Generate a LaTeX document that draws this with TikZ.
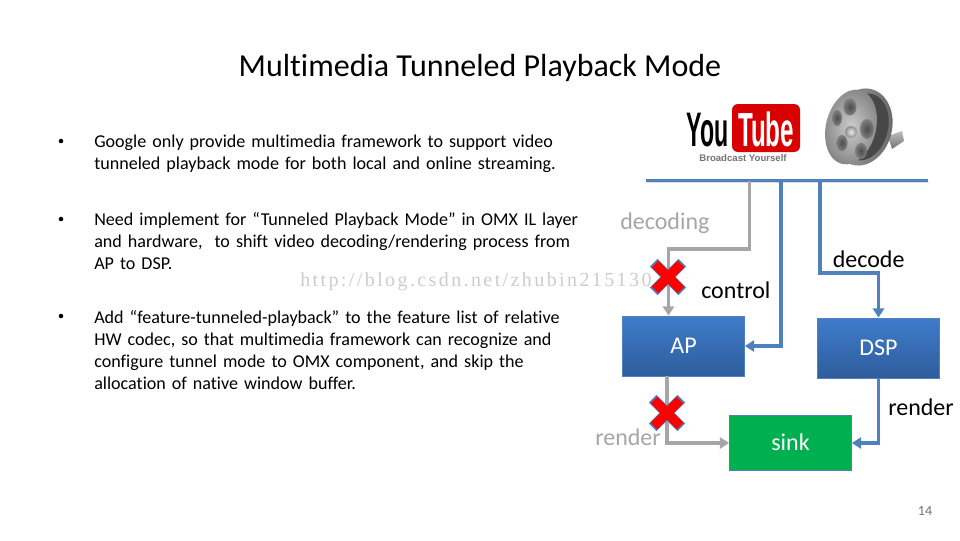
\documentclass[tikz,border=0pt]{standalone}
\usepackage{fontspec}
\setmainfont[Ligatures=NoCommon]{Carlito}
\newfontfamily\wmfont[LetterSpace=12]{Liberation Serif}
\newfontfamily\ytfont{Liberation Sans}
\usetikzlibrary{arrows.meta,shapes.misc,shadows}
\definecolor{flowblue}{HTML}{4F81BD}
\definecolor{flowgrey}{HTML}{A6A6A6}
\definecolor{boxtop}{HTML}{3F7CCB}
\definecolor{boxbot}{HTML}{2E5D9C}
\definecolor{sinkgreen}{HTML}{00B050}
\tikzset{
  x=0.75pt,y=-0.75pt,
  boxbase/.style={minimum width=91.5pt,inner sep=0pt,text=white,font=\fontsize{18}{21}\selectfont,draw=flowblue,line width=.6pt,drop shadow={shadow xshift=0.5pt,shadow yshift=-0.9pt,opacity=.3}},
  bluebox/.style={boxbase,minimum height=45pt,top color=boxtop,bottom color=boxbot},
  greenbox/.style={boxbase,minimum height=41.25pt,fill=sinkgreen},
  flow/.style={line width=2.4pt,-{Triangle[length=7pt,width=8.5pt]}},
  bluef/.style={flow,draw=flowblue},
  greyf/.style={flow,draw=flowgrey},
  lab/.style={inner sep=0pt,font=\fontsize{18}{22}\selectfont},
  glab/.style={lab,text=black!35},
  bul/.style={inner sep=0pt,anchor=north west,align=left,text width=400pt,font=\fontsize{13.55}{16.5}\selectfont},
  dotb/.style={circle,fill=black,inner sep=0pt,minimum size=3.4pt},
  xmark/.style={cross out,draw=red,line width=7pt,minimum size=12.5pt,inner sep=0pt},
  xedge/.style={cross out,draw=flowblue,line width=8pt,minimum size=13.5pt,inner sep=0pt},
  holefill/.style={inner color=black!70,outer color=black!50},
}
\begin{document}
\begin{tikzpicture}
\useasboundingbox (0,0) rectangle (960,540);
\fill[white] (0,0) rectangle (960,540);
\node[inner sep=0pt,font=\fontsize{24}{28}\selectfont] (title) at (480,67.5) {Multimedia Tunneled Playback Mode};

% bullets
\node[dotb] (b1) at (61,141) {};
\node[dotb] (b2) at (61,219) {};
\node[dotb] (b3) at (61,316) {};
\node[bul] (t1) at (94,134.5) {Google only provide multimedia framework to support video\\tunneled playback mode for both local and online streaming.};
\node[bul] (t2) at (94,212) {Need implement for “Tunneled Playback Mode” in OMX IL layer\\and hardware,\ \ to shift video decoding/rendering process from\\AP to DSP.};
\node[bul] (t3) at (94,310.5) {Add “feature-tunneled-playback” to the feature list of relative\\HW codec, so that multimedia framework can recognize and\\configure tunnel mode to OMX component, and skip the\\allocation of native window buffer.};

% watermark
\node[inner sep=0pt,anchor=west,text=black!20,font=\fontsize{15}{18}\wmfont] (wm) at (300,282) {http://blog.csdn.net/zhubin215130};

% YouTube logo
\node[inner sep=0pt,anchor=west,font=\ytfont\bfseries] (you) at (686,130) {\resizebox{31.5pt}{25pt}{You}};
\fill[red!85!black,rounded corners=4.5pt] (732,104) rectangle (800,152);
\node[inner sep=0pt,text=white,font=\ytfont\bfseries] (tube) at (766,129) {\resizebox{42pt}{26pt}{Tube}};
\node[inner sep=0pt,text=black!55,font=\ytfont\bfseries\fontsize{7.2}{9}\selectfont] (bc) at (743,158.5) {Broadcast Yourself};

% film reel
\shade[top color=black!25,bottom color=black!55] (888,136) -- (902,131) -- (904,141) -- (892,149) -- cycle;
\shade[left color=black!35,right color=black!60,rotate around={-14:(862,127)}] (862,127) ellipse (30 and 39);
\fill[black!72,rotate around={-14:(864,127)}] (864,127) ellipse (24 and 34);
\shade[inner color=black!20,outer color=black!48,rotate around={-14:(851,127)}] (851,127) ellipse (25 and 38);
\shade[holefill] (850,107) ellipse (6.5 and 8.5);
\shade[holefill] (837,118) ellipse (5 and 8);
\shade[holefill] (867,129) ellipse (7 and 10);
\shade[holefill] (842,143) ellipse (5.5 and 8);
\shade[holefill] (861,151) ellipse (6 and 8);
\shade[inner color=black!8,outer color=black!45] (851,132) circle (6);

% boxes
\node[bluebox] (ap) at (683.5,346) {AP};
\node[bluebox] (dsp) at (878.5,348) {DSP};
\node[greenbox] (sink) at (790.5,442.5) {sink};

% bus
\coordinate (busL) at (646,180.5);
\coordinate (busR) at (928,180.5);
\coordinate (busA) at (749.5,180.5);
\coordinate (busB) at (781,180.5);
\coordinate (busC) at (820,180.5);
\coordinate (grey1) at (749.5,249);
\coordinate (grey2) at (668.5,249);
\coordinate (grey3) at (667,443);
\coordinate (blue1) at (820,273);
\coordinate (blue2) at (878.5,273);
\coordinate (blue3) at (781,346);
\coordinate (blue4) at (878.5,443);
\draw[line width=1.4pt,draw=black!14] ([shift={(1,2)}]busL) -- ([shift={(1,2)}]busR);
\draw[line width=2.4pt,draw=flowblue] (busL) -- (busR);

% connectors
\draw[greyf] (busA) -- (grey1) -- (grey2) -- (grey2 |- ap.north);
\draw[greyf] (ap.south -| grey3) -- (grey3) -- (sink.west |- grey3);
\draw[bluef] (busB) -- (blue3) -- (ap.east |- blue3);
\draw[bluef] (busC) -- (blue1) -- (blue2) -- (dsp.north);
\draw[bluef] (dsp.south) -- (blue4) -- (sink.east |- blue4);

% crosses
\node[xedge] (x1e) at (668,277) {};
\node[xmark] (x1) at (668,277) {};
\node[xedge] (x2e) at (667,413) {};
\node[xmark] (x2) at (667,413) {};

% labels
\node[glab,anchor=base west] (ldec) at (620,229) {decoding};
\node[lab,anchor=base west] (lcon) at (701,298) {control};
\node[lab,anchor=base west] (ldc) at (832.5,267) {decode};
\node[lab,anchor=base west] (lr1) at (888,415) {render};
\node[glab,anchor=base west] (lr2) at (595,445) {render};
\node[inner sep=0pt,text=black!55,font=\fontsize{10.5}{12}\selectfont] (pg) at (925,511) {14};
\end{tikzpicture}
\end{document}
